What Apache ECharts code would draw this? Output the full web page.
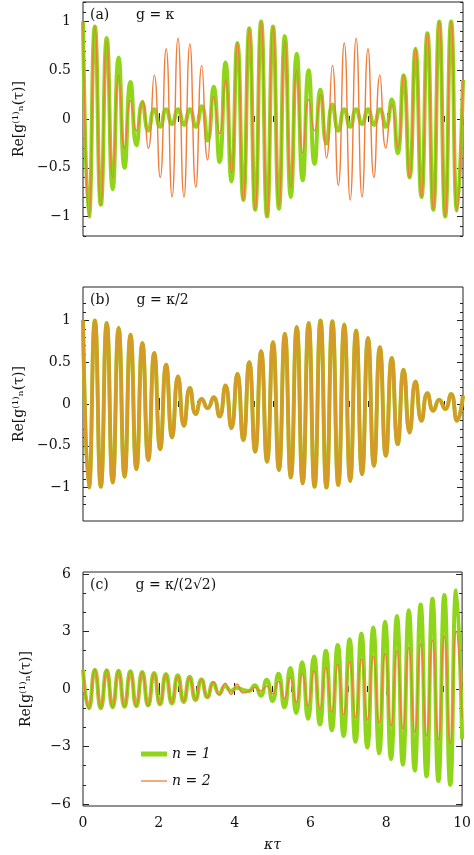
<!DOCTYPE html>
<html><head><meta charset="utf-8">
<script src="https://cdn.jsdelivr.net/npm/echarts@6/dist/echarts.min.js"></script>
<style>html,body{margin:0;padding:0;background:#fff}#c{width:474px;height:855px}</style>
</head><body><div id="c"></div>
<script>
const halfPeriod = 0.15625;
const aN1 = [1,-1,0.95,-0.88,0.83,-0.72,0.63,-0.5,0.38,-0.27,0.17,-0.12,0.1,-0.08,0.1,-0.05,0.1,-0.06,0.1,-0.08,0.13,-0.22,0.33,-0.44,0.58,-0.64,0.78,-0.83,0.93,-0.93,1,-1,0.95,-0.92,0.85,-0.8,0.67,-0.63,0.5,-0.46,0.3,-0.25,0.15,-0.12,0.1,-0.08,0.1,-0.05,0.1,-0.06,0.1,-0.08,0.2,-0.35,0.45,-0.6,0.72,-0.8,0.88,-0.93,1,-1,1,-0.94,0.4];
const aN2 = [1,-1,0.95,-0.88,0.8,-0.6,0.45,-0.3,0.19,-0.12,0.19,-0.3,0.45,-0.6,0.72,-0.8,0.83,-0.8,0.77,-0.7,0.55,-0.42,0.23,-0.15,0.4,-0.55,0.78,-0.83,0.93,-0.93,1,-1,0.95,-0.9,0.8,-0.7,0.5,-0.35,0.2,-0.12,0.25,-0.4,0.55,-0.68,0.78,-0.83,0.83,-0.8,0.72,-0.6,0.45,-0.3,0.15,-0.3,0.45,-0.6,0.72,-0.8,0.88,-0.93,1,-1,1,-0.94,0.4];
const bN = [1,-1,1,-0.99,0.97,-0.94,0.91,-0.87,0.83,-0.78,0.73,-0.67,0.61,-0.54,0.47,-0.4,0.33,-0.26,0.19,-0.12,0.06,-0.05,0.08,-0.15,0.22,-0.29,0.36,-0.43,0.5,-0.57,0.63,-0.69,0.74,-0.79,0.84,-0.88,0.92,-0.95,0.97,-0.99,1,-1,0.99,-0.97,0.95,-0.92,0.88,-0.84,0.79,-0.74,0.68,-0.62,0.55,-0.48,0.41,-0.34,0.27,-0.2,0.13,-0.08,0.05,-0.06,0.12,-0.2,0.1];
const cN1 = [1,-1,1,-1,0.98,-0.95,0.95,-0.92,0.92,-0.9,0.88,-0.86,0.83,-0.8,0.78,-0.75,0.72,-0.68,0.64,-0.58,0.5,-0.42,0.32,-0.25,0.15,-0.1,0.06,-0.05,-0.1,0.2,-0.35,0.48,-0.62,0.8,-0.95,1.1,-1.25,1.4,-1.55,1.7,-1.85,2.0,-2.15,2.3,-2.45,2.6,-2.75,2.9,-3.05,3.2,-3.35,3.5,-3.65,3.8,-3.95,4.1,-4.25,4.4,-4.55,4.7,-4.8,4.9,-5.0,5.15,-2.6];
const cN2 = [1,-1,1,-1,0.98,-0.95,0.95,-0.92,0.92,-0.9,0.88,-0.86,0.83,-0.8,0.76,-0.72,0.68,-0.64,0.6,-0.55,0.5,-0.45,0.38,-0.32,0.3,-0.28,0.25,-0.2,-0.12,0.08,-0.1,0.15,-0.25,0.4,-0.5,0.6,-0.7,0.8,-0.88,0.95,-1.05,1.12,-1.2,1.28,-1.35,1.42,-1.5,1.56,-1.62,1.7,-1.78,1.85,-1.92,2.0,-2.08,2.16,-2.25,2.35,-2.45,2.55,-2.65,2.75,-2.85,3.0,-1.5];
const yTicksAB = [-1,-0.5,0,0.5,1];
const yLabelsAB = ['−1','−0.5','0','0.5','1'];
const yTicksC = [-6,-3,0,3,6];
const panelTitles = ['(a)      g = κ','(b)      g = κ/2','(c)      g = κ/(2√2)'];
const seriesNames = ['n = 1','n = 2'];

const GREEN = '#8fd61a', ORANGE = '#f07d3a';
const F = 'DejaVu Serif';
const pts = arr => arr.map((v,k)=>[k*halfPeriod, v]);
function range(a,b,s){const r=[];for(let v=a;v<=b+1e-9;v+=s)r.push(+v.toFixed(4));return r;}

const grids = [{top:2},{top:287},{top:572}].map(g=>({left:83,width:380,top:g.top,height:234,show:true,borderColor:'#222',borderWidth:1,backgroundColor:'transparent'}));
const yr = [[-1.2,1.2],[-1.4,1.4],[-6.1,6.1]];
const xAxis=[], yAxis=[];
for(let i=0;i<3;i++){
  xAxis.push({type:'value',gridIndex:i,min:0,max:10,interval:2,position:'bottom',
    axisLine:{show:false},splitLine:{show:false},
    axisTick:{inside:true,length:6,lineStyle:{color:'#222'}},
    minorTick:{show:true,splitNumber:4,length:3,lineStyle:{color:'#222'}},
    axisLabel:{show:i===2,fontFamily:F,fontSize:14,color:'#111',margin:10},
    name:i===2?'κτ':'',nameLocation:'middle',nameGap:32,nameTextStyle:{fontFamily:F,fontSize:14,fontStyle:'italic',color:'#111'}});
  xAxis.push({type:'value',gridIndex:i,min:0,max:10,interval:2,position:'top',
    axisLine:{show:false},splitLine:{show:false},axisLabel:{show:false},
    axisTick:{inside:true,length:6,lineStyle:{color:'#222'}},
    minorTick:{show:true,splitNumber:4,length:3,lineStyle:{color:'#222'}}});
  const major = i<2?yTicksAB:yTicksC;
  const minor = i<2?range(-1.2,1.2,0.1).filter(v=>v>=yr[i][0]&&v<=yr[i][1]):range(-6,6,1);
  const lbl = i<2?yLabelsAB:yTicksC.map(String).map(s=>s.replace('-','−'));
  const nm = 'Re[g⁽¹⁾ₙ(τ)]';
  for(const side of ['left','right']){
    yAxis.push({type:'value',gridIndex:i,min:yr[i][0],max:yr[i][1],position:side,
      axisLine:{show:false},splitLine:{show:false},
      axisTick:{inside:true,length:6,customValues:major,lineStyle:{color:'#222'}},
      axisLabel:{show:side==='left',customValues:major,formatter:v=>lbl[major.indexOf(v)]??'',fontFamily:F,fontSize:14,color:'#111',margin:12},
      name:side==='left'?nm:'',nameLocation:'middle',nameRotate:90,nameGap:50,nameTextStyle:{fontFamily:F,fontSize:14,color:'#111'}});
    yAxis.push({type:'value',gridIndex:i,min:yr[i][0],max:yr[i][1],position:side,
      axisLine:{show:false},splitLine:{show:false},axisLabel:{show:false},
      axisTick:{inside:true,length:3,customValues:minor,lineStyle:{color:'#222'}}});
  }
}
const data = [[aN1,aN2],[bN,bN],[cN1,cN2]];
const series=[];
for(let i=0;i<3;i++){
  series.push({name:seriesNames[0],type:'line',xAxisIndex:2*i,yAxisIndex:4*i,data:pts(data[i][0]),smooth:0.55,symbol:'none',
    lineStyle:{color:GREEN,width:4},itemStyle:{color:GREEN},z:2});
  series.push({name:seriesNames[1],type:'line',xAxisIndex:2*i,yAxisIndex:4*i,data:pts(data[i][1]),smooth:0.55,symbol:'none',
    lineStyle:{color:i===1?'#e0912a':ORANGE,width:i===1?3.6:1.4,opacity:i===1?0.85:1},itemStyle:{color:ORANGE},z:3});
}
const chart = echarts.init(document.getElementById('c'));
chart.setOption({
  animation:false,
  grid:grids, xAxis, yAxis, series,
  legend:{orient:'vertical',left:136,top:742,itemWidth:26,itemHeight:5,itemGap:13,
    data:[{name:seriesNames[0],icon:'rect'},{name:seriesNames[1],icon:'path://M0,0H26V1.3H0Z'}],
    textStyle:{fontFamily:F,fontSize:14,fontStyle:'italic',color:'#111'}},
  graphic:panelTitles.map((t,i)=>({type:'text',left:90,top:grids[i].top+6,
    style:{text:t,font:'14px "DejaVu Serif"',fill:'#111'}}))
});
</script></body></html>
